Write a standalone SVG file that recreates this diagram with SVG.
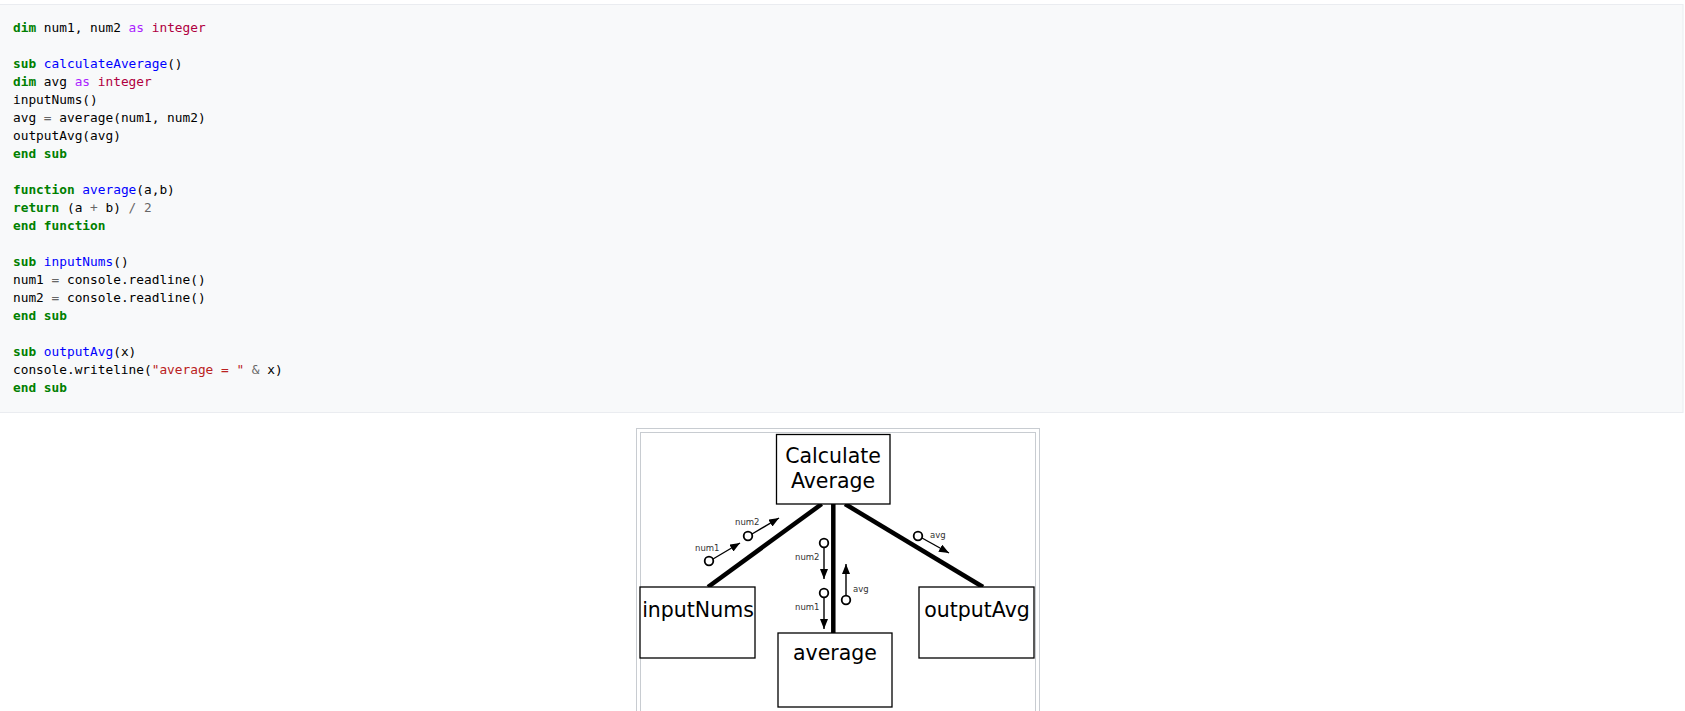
<svg xmlns="http://www.w3.org/2000/svg" width="1685" height="711" viewBox="0 0 1685 711">
<style>
.code{font-family:"DejaVu Sans Mono","Liberation Mono",monospace;font-size:12.8px;fill:#000}
.k{fill:#008000;font-weight:bold}.f{fill:#0000ff}.a{fill:#aa22ff}.t{fill:#b00040}.o{fill:#666}.s{fill:#ba2121}
.box{fill:#fff;stroke:#000;stroke-width:1.3}
.lbl{font-family:"DejaVu Sans",sans-serif;font-size:20.5px;fill:#000;text-anchor:middle}
.sm{font-family:"DejaVu Sans",sans-serif;font-size:8.5px;fill:#333}
.bar{stroke:#000;stroke-width:4.5}
.arr{stroke:#000;stroke-width:1.4;marker-end:url(#ah)}
.dot{fill:#fff;stroke:#000;stroke-width:1.8}
</style>
<defs><marker id="ah" viewBox="0 0 10 8" refX="10" refY="4" markerWidth="10" markerHeight="8" markerUnits="userSpaceOnUse" orient="auto"><path d="M0,0 L10,4 L0,8 z" fill="#000"/></marker></defs>
<rect width="1685" height="711" fill="#fff"/>
<rect x="-1" y="4.5" width="1684" height="408" fill="#f8f9fa" stroke="#eaecf0"/>
<g class="code" xml:space="preserve">
<text x="13" y="31.5"><tspan class="k">dim</tspan> num1, num2 <tspan class="a">as</tspan> <tspan class="t">integer</tspan></text>
<text x="13" y="67.5"><tspan class="k">sub</tspan> <tspan class="f">calculateAverage</tspan>()</text>
<text x="13" y="85.5">  <tspan class="k">dim</tspan> avg <tspan class="a">as</tspan> <tspan class="t">integer</tspan></text>
<text x="13" y="103.5">  inputNums()</text>
<text x="13" y="121.5">  avg <tspan class="o">=</tspan> average(num1, num2)</text>
<text x="13" y="139.5">  outputAvg(avg)</text>
<text x="13" y="157.5"><tspan class="k">end sub</tspan></text>
<text x="13" y="193.5"><tspan class="k">function</tspan> <tspan class="f">average</tspan>(a,b)</text>
<text x="13" y="211.5">  <tspan class="k">return</tspan> (a <tspan class="o">+</tspan> b) <tspan class="o">/</tspan> <tspan class="o">2</tspan></text>
<text x="13" y="229.5"><tspan class="k">end function</tspan></text>
<text x="13" y="265.5"><tspan class="k">sub</tspan> <tspan class="f">inputNums</tspan>()</text>
<text x="13" y="283.5">  num1 <tspan class="o">=</tspan> console.readline()</text>
<text x="13" y="301.5">  num2 <tspan class="o">=</tspan> console.readline()</text>
<text x="13" y="319.5"><tspan class="k">end sub</tspan></text>
<text x="13" y="355.5"><tspan class="k">sub</tspan> <tspan class="f">outputAvg</tspan>(x)</text>
<text x="13" y="373.5">  console.writeline(<tspan class="s">"average = "</tspan> <tspan class="o">&amp;</tspan> x)</text>
<text x="13" y="391.5"><tspan class="k">end sub</tspan></text>
</g>
<rect x="636.5" y="428.5" width="403" height="300" fill="#fff" stroke="#c8ccd1"/>
<rect x="640.5" y="432.5" width="395" height="300" fill="none" stroke="#c8ccd1"/>
<g id="connectors">
<line class="bar" x1="821.7" y1="504" x2="708" y2="587"/>
<line class="bar" x1="833.3" y1="504" x2="833.3" y2="633"/>
<line class="bar" x1="845" y1="504" x2="983" y2="587"/>
<line class="arr" x1="713" y1="559" x2="740" y2="543"/>
<circle class="dot" cx="709" cy="561" r="4.3"/>
<text class="sm" x="695" y="551">num1</text>
<line class="arr" x1="752" y1="534" x2="779" y2="518"/>
<circle class="dot" cx="748" cy="536" r="4.3"/>
<text class="sm" x="735" y="525">num2</text>
<line class="arr" x1="824" y1="547" x2="824" y2="579"/>
<circle class="dot" cx="824" cy="543" r="4.3"/>
<text class="sm" x="795" y="560">num2</text>
<line class="arr" x1="824" y1="597" x2="824" y2="629"/>
<circle class="dot" cx="824" cy="593" r="4.3"/>
<text class="sm" x="795" y="610">num1</text>
<line class="arr" x1="846" y1="596" x2="846" y2="564"/>
<circle class="dot" cx="846" cy="600" r="4.3"/>
<text class="sm" x="853" y="592">avg</text>
<line class="arr" x1="922" y1="538" x2="949" y2="553"/>
<circle class="dot" cx="918" cy="536" r="4.3"/>
<text class="sm" x="930" y="538">avg</text>
</g>
<g id="calc"><rect class="box" x="776.5" y="434.5" width="113.5" height="69.5"/><text class="lbl" x="833" y="463">Calculate</text><text class="lbl" x="833" y="488">Average</text></g>
<g id="inputNums"><rect class="box" x="640" y="587" width="115" height="71"/><text class="lbl" x="698" y="617">inputNums</text></g>
<g id="average"><rect class="box" x="778" y="633" width="114" height="74"/><text class="lbl" x="835" y="660">average</text></g>
<g id="outputAvg"><rect class="box" x="919" y="587" width="115" height="71"/><text class="lbl" x="977" y="617">outputAvg</text></g>
</svg>
